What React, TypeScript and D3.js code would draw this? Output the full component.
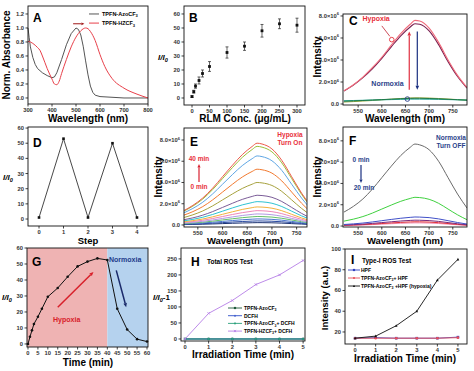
import * as d3 from "d3";

const W = 474;
const H = 371;
const FONT = "'Liberation Sans', Arial, sans-serif";

// ---- A: normalized absorbance
const azoWl = [300, 305, 310, 320, 330, 340, 360, 380, 400, 410, 420, 440, 460, 480, 500, 510, 520, 530, 540, 550, 560, 570, 580, 600, 650, 700, 800];
const azoAbs = [1.0, 0.86, 0.73, 0.58, 0.48, 0.42, 0.36, 0.32, 0.29, 0.3, 0.36, 0.55, 0.76, 0.92, 1.0, 0.98, 0.9, 0.74, 0.53, 0.33, 0.17, 0.08, 0.04, 0.02, 0.01, 0.0, 0.0];
const hzWl = [300, 310, 320, 340, 350, 360, 380, 400, 410, 420, 430, 440, 460, 480, 500, 520, 540, 550, 560, 580, 600, 620, 650, 700, 750, 800];
const hzAbs = [0.81, 0.8, 0.78, 0.72, 0.68, 0.6, 0.42, 0.27, 0.2, 0.19, 0.24, 0.35, 0.55, 0.73, 0.87, 0.96, 1.0, 0.99, 0.95, 0.82, 0.62, 0.45, 0.28, 0.14, 0.06, 0.0];

// ---- B: I/I0 vs RLM concentration
const rlmConc = [0, 5, 10, 20, 30, 50, 100, 150, 200, 250, 300];
const rlmRatio = [1, 4.5, 8.5, 12.5, 17.5, 22.5, 32.5, 37, 48, 53, 52];
const rlmErr = [0.6, 1, 1.5, 2.5, 2.5, 3.5, 4, 3, 4.5, 3.5, 5];

// ---- C: emission spectra (x10^6)
const specWl = [520, 540, 560, 580, 600, 620, 640, 660, 670, 680, 700, 720, 740, 760, 780];
const cHypoxia = [1.2, 1.75, 2.45, 3.3, 4.25, 5.35, 6.4, 7.25, 7.6, 7.55, 6.9, 5.6, 4.0, 2.6, 1.5];
const cHypoxia2 = [1.18, 1.72, 2.4, 3.2, 4.15, 5.2, 6.2, 7.0, 7.3, 7.25, 6.65, 5.4, 3.85, 2.5, 1.45];
const cNormGreen = [0.25, 0.28, 0.32, 0.36, 0.4, 0.44, 0.48, 0.51, 0.52, 0.52, 0.5, 0.47, 0.43, 0.39, 0.35];
const cNormTeal = [0.3, 0.32, 0.34, 0.36, 0.38, 0.4, 0.42, 0.44, 0.44, 0.44, 0.43, 0.42, 0.4, 0.38, 0.36];
const cNormOlive = [0.18, 0.22, 0.27, 0.32, 0.38, 0.44, 0.5, 0.55, 0.56, 0.56, 0.54, 0.5, 0.45, 0.4, 0.35];

const bandShape = [0.17, 0.24, 0.33, 0.45, 0.59, 0.73, 0.86, 0.96, 1.0, 0.99, 0.93, 0.79, 0.59, 0.39, 0.22];
const ePeaks = [7.7, 7.4, 6.5, 5.25, 4.0, 2.8, 2.2, 1.7, 1.35, 1.04, 0.8, 0.57, 0.38, 0.22];
const eColors = ["#ee5a4a", "#9cbf3a", "#5ea6e4", "#f27a30", "#a7a23e", "#7b5c98", "#2ec3d2", "#f2b23c", "#ef86b8", "#b29ae4", "#66c06a", "#4c78d0", "#2a4aa0", "#1b3272"];
const fPeaks = [7.7, 2.7, 0.85, 0.55, 0.4, 0.3];
const fColors = ["#6b6b6b", "#3fd13f", "#4050c8", "#7a2a7a", "#e0303a", "#f28ab0"];

// ---- D: cycling
const steps = [0, 1, 2, 3, 4];
const stepRatio = [1, 53, 1, 50, 1];

// ---- G: time course
const gTime = [0, 1, 2, 3, 5, 7, 10, 15, 20, 25, 30, 35, 40, 45, 50, 55, 60];
const gRatio = [0, 4.5, 8.5, 12.5, 17, 22, 29.5, 35, 42, 48.5, 51.5, 53.5, 52.5, 22, 9, 3, 1.5];

// ---- H: total ROS
const irrTime = [0, 1, 2, 3, 4, 5];
const hAzo = [0, 0, 0, 0, 0, 0];
const hDcfh = [0, 0, 0, 0, 0, 0];
const hAzoDcfh = [0, 0, 0, 0, 0, 0];
const hHzDcfh = [0, 80, 120, 170, 200, 245];
const hLabels = ["TPFN-AzoCF", "DCFH", "TPFN-AzoCF", "TPFN-HZCF"];

// ---- I: type-I ROS
const iHpf = [14, 14.5, 14, 14, 14, 15];
const iAzoHpf = [14, 14, 14, 14, 14, 14.5];
const iAzoHpfHyp = [14, 16, 26, 40, 70, 90];

type S = d3.ScaleLinear<number, number>;

function Box({ x, y, xt, yt, xf, yf }: { x: S; y: S; xt: number[]; yt: number[]; xf: (v: number) => any; yf: (v: number) => any }) {
  const [x0, x1] = x.range();
  const [yb, yt0] = y.range();
  const tl = 2.5;
  return (
    <g>
      <rect x={x0} y={yt0} width={x1 - x0} height={yb - yt0} fill="none" stroke="#111" strokeWidth={0.9} />
      {xt.map((v) => (
        <g key={"x" + v}>
          <line x1={x(v)} x2={x(v)} y1={yb} y2={yb + tl} stroke="#111" strokeWidth={0.8} />
          <text x={x(v)} y={yb + 8} fontSize={5.8} fontWeight="bold" fill="#333" textAnchor="middle">{xf(v)}</text>
        </g>
      ))}
      {yt.map((v) => (
        <g key={"y" + v}>
          <line x1={x0 - tl} x2={x0} y1={y(v)} y2={y(v)} stroke="#111" strokeWidth={0.8} />
          <text x={x0 - tl - 1.5} y={y(v) + 2} fontSize={5.8} fontWeight="bold" fill="#333" textAnchor="end">{yf(v)}</text>
        </g>
      ))}
    </g>
  );
}

const sci = (v: number) =>
  v === 0 ? "0.0" : (
    <>
      {v.toFixed(1)}×10<tspan dy={-2.5} fontSize={4}>6</tspan>
    </>
  );

function Arrow({ x1, y1, x2, y2, color, w = 1.3, head = 4 }: { x1: number; y1: number; x2: number; y2: number; color: string; w?: number; head?: number }) {
  const a = Math.atan2(y2 - y1, x2 - x1);
  const bx = x2 - head * Math.cos(a);
  const by = y2 - head * Math.sin(a);
  const px = Math.sin(a) * head * 0.45;
  const py = -Math.cos(a) * head * 0.45;
  return (
    <g>
      <line x1={x1} y1={y1} x2={bx} y2={by} stroke={color} strokeWidth={w} />
      <path d={`M${x2},${y2}L${bx + px},${by + py}L${bx - px},${by - py}Z`} fill={color} />
    </g>
  );
}

function Marker({ kind, cx, cy, color, r = 1.6 }: { kind: string; cx: number; cy: number; color: string; r?: number }) {
  if (kind === "sq") return <rect x={cx - r} y={cy - r} width={2 * r} height={2 * r} fill={color} />;
  if (kind === "tri") return <path d={`M${cx},${cy - r * 1.2}L${cx + r},${cy + r * 0.8}L${cx - r},${cy + r * 0.8}Z`} fill={color} />;
  if (kind === "dia") return <path d={`M${cx},${cy - r * 1.2}L${cx + r},${cy}L${cx},${cy + r * 1.2}L${cx - r},${cy}Z`} fill={color} />;
  if (kind === "x") return <path d={`M${cx - r},${cy - r}L${cx + r},${cy + r}M${cx - r},${cy + r}L${cx + r},${cy - r}`} stroke={color} strokeWidth={0.8} />;
  return <circle cx={cx} cy={cy} r={r} fill={color} />;
}

export default function App() {
  const bold = { fontWeight: "bold" as const };
  const spec = (x: S, y: S, ys: number[]) =>
    d3.line<number>().x((_, i) => x(specWl[i])).y((v) => y(v)).curve(d3.curveMonotoneX)(ys) || "";
  const lin = (x: S, y: S, xs: number[], ys: number[]) =>
    d3.line<number>().x((_, i) => x(xs[i])).y((v) => y(v))(ys) || "";

  // A
  const ax = d3.scaleLinear().domain([300, 800]).range([28, 148]);
  const ay = d3.scaleLinear().domain([-0.086, 1.314]).range([104, 6]);
  // B
  const bx = d3.scaleLinear().domain([-22.9, 322.9]).range([184, 305]);
  const by = d3.scaleLinear().domain([-5, 65.7]).range([105, 6]);
  // C
  const cx = d3.scaleLinear().domain([518, 780]).range([343, 467]);
  const cy = d3.scaleLinear().domain([-0.09, 8.18]).range([105, 14]);
  // D
  const dx = d3.scaleLinear().domain([-0.45, 4.45]).range([28, 148]);
  const dy = d3.scaleLinear().domain([-4.6, 60.7]).range([226, 127]);
  // E
  const ex = d3.scaleLinear().domain([522, 771]).range([184, 307]);
  const ey = d3.scaleLinear().domain([-0.19, 9.13]).range([227, 128]);
  // F
  const fx = d3.scaleLinear().domain([518, 780]).range([343, 467]);
  const fy = d3.scaleLinear().domain([-0.09, 9.3]).range([227, 127]);
  // G
  const gx = d3.scaleLinear().domain([-0.5, 60.5]).range([27, 148]);
  const gy = d3.scaleLinear().domain([-1.9, 60]).range([347, 248]);
  // H
  const hx = d3.scaleLinear().domain([-0.17, 5.08]).range([181, 305]);
  const hy = d3.scaleLinear().domain([-6.3, 284]).range([341, 248]);
  // I
  const ix = d3.scaleLinear().domain([-0.49, 5.44]).range([345, 467]);
  const iy = d3.scaleLinear().domain([8.4, 100]).range([344, 249]);

  const clip = (id: string, x: S, y: S) => (
    <clipPath id={id}>
      <rect x={x.range()[0]} y={y.range()[1]} width={x.range()[1] - x.range()[0]} height={y.range()[0] - y.range()[1]} />
    </clipPath>
  );

  const hSeries = [
    { v: hAzo, c: "#1f5a3a", m: "sq" },
    { v: hDcfh, c: "#3050c8", m: "tri" },
    { v: hAzoDcfh, c: "#2aa07a", m: "dia" },
    { v: hHzDcfh, c: "#b57ee6", m: "x" },
  ];
  const iSeries = [
    { v: iHpf, c: "#3040c0", m: "sq", lab: "HPF" },
    { v: iAzoHpf, c: "#e8505a", m: "circ", lab: "TPFN-AzoCF" },
    { v: iAzoHpfHyp, c: "#111", m: "tri", lab: "TPFN-AzoCF" },
  ];

  return (
    <svg width={W} height={H} style={{ position: "absolute", left: 0, top: 0, background: "#fff" }} fontFamily={FONT}>
      <defs>
        {clip("clipC", cx, cy)}
        {clip("clipE", ex, ey)}
        {clip("clipF", fx, fy)}
      </defs>

      {/* ---------- A ---------- */}
      <path d={lin(ax, ay, azoWl, azoAbs)} fill="none" stroke="#555" strokeWidth={1} />
      <path d={d3.line<number>().x((_, i) => ax(hzWl[i])).y((v) => ay(v)).curve(d3.curveMonotoneX)(hzAbs) || ""} fill="none" stroke="#e8404a" strokeWidth={1} />
      <Box x={ax} y={ay} xt={d3.range(300, 801, 100)} yt={d3.range(0, 1.21, 0.2)} xf={(v) => v} yf={(v) => v.toFixed(1)} />
      <text x={33} y={22} fontSize={12} {...bold}>A</text>
      <line x1={89} x2={99} y1={ay(1.2)} y2={ay(1.2)} stroke="#555" strokeWidth={1} />
      <text x={102} y={ay(1.2) + 2} fontSize={5.5} {...bold}>TPFN-AzoCF<tspan dy={1.5} fontSize={4}>3</tspan></text>
      <line x1={89} x2={99} y1={ay(1.07)} y2={ay(1.07)} stroke="#e8404a" strokeWidth={1} />
      <text x={102} y={ay(1.07) + 2} fontSize={5.5} {...bold}>TPFN-HZCF<tspan dy={1.5} fontSize={4}>3</tspan></text>
      <Arrow x1={ax(488)} y1={ay(1.06)} x2={ax(535)} y2={ay(1.06)} color="#a01818" w={1} head={3} />
      <text x={88} y={121.5} fontSize={10} {...bold} textAnchor="middle">Wavelength (nm)</text>
      <text transform="translate(10,55) rotate(-90)" fontSize={10} {...bold} textAnchor="middle">Norm. Absorbance</text>

      {/* ---------- B ---------- */}
      {rlmConc.map((c, i) => (
        <g key={"b" + i}>
          <line x1={bx(c)} x2={bx(c)} y1={by(rlmRatio[i] - rlmErr[i])} y2={by(rlmRatio[i] + rlmErr[i])} stroke="#222" strokeWidth={0.7} />
          <line x1={bx(c) - 1.5} x2={bx(c) + 1.5} y1={by(rlmRatio[i] - rlmErr[i])} y2={by(rlmRatio[i] - rlmErr[i])} stroke="#222" strokeWidth={0.7} />
          <line x1={bx(c) - 1.5} x2={bx(c) + 1.5} y1={by(rlmRatio[i] + rlmErr[i])} y2={by(rlmRatio[i] + rlmErr[i])} stroke="#222" strokeWidth={0.7} />
          <rect x={bx(c) - 1.4} y={by(rlmRatio[i]) - 1.4} width={2.8} height={2.8} fill="#111" />
        </g>
      ))}
      <Box x={bx} y={by} xt={d3.range(0, 301, 50)} yt={d3.range(0, 61, 10)} xf={(v) => v} yf={(v) => v} />
      <text x={189} y={22} fontSize={12} {...bold}>B</text>
      <text x={245} y={122} fontSize={10} {...bold} textAnchor="middle">RLM Conc. (μg/mL)</text>
      <text x={158} y={60} fontSize={8} fontStyle="italic" {...bold}>I/I<tspan dy={1.5} fontSize={5.5}>0</tspan></text>

      {/* ---------- C ---------- */}
      <g clipPath="url(#clipC)">
        <path d={spec(cx, cy, cNormOlive)} fill="none" stroke="#9aa83a" strokeWidth={1} />
        <path d={spec(cx, cy, cNormTeal)} fill="none" stroke="#2aa89a" strokeWidth={1} />
        <path d={spec(cx, cy, cNormGreen)} fill="none" stroke="#1f7a4a" strokeWidth={1} />
        <path d={spec(cx, cy, cHypoxia2)} fill="none" stroke="#7a2050" strokeWidth={1.1} />
        <path d={spec(cx, cy, cHypoxia)} fill="none" stroke="#f06a7a" strokeWidth={1.1} />
      </g>
      <Box x={cx} y={cy} xt={d3.range(550, 751, 50)} yt={d3.range(0, 8.1, 2)} xf={(v) => v} yf={sci} />
      <text x={349} y={25} fontSize={12} {...bold}>C</text>
      <text x={cx(588)} y={cy(7.5)} fontSize={7} fill="#e8303a" {...bold} textAnchor="middle">Hypoxia</text>
      <line x1={cx(600)} y1={cy(7.1)} x2={cx(617)} y2={cy(6.15)} stroke="#c02030" strokeWidth={0.8} />
      <circle cx={cx(621)} cy={cy(5.85)} r={2.3} fill="none" stroke="#e8303a" strokeWidth={0.9} />
      <Arrow x1={cx(658)} y1={cy(1.3)} x2={cx(658)} y2={cy(6.6)} color="#e03040" w={1.2} head={4} />
      <Arrow x1={cx(675)} y1={cy(6.6)} x2={cx(675)} y2={cy(1.3)} color="#1a2f80" w={1.2} head={4} />
      <text x={cx(612)} y={cy(1.6)} fontSize={7} fill="#2a3f8a" {...bold} textAnchor="middle">Normoxia</text>
      <circle cx={cx(654)} cy={cy(0.45)} r={2.3} fill="none" stroke="#2a3f8a" strokeWidth={0.9} />
      <text x={405} y={122} fontSize={10} {...bold} textAnchor="middle">Wavelength (nm)</text>
      <text transform="translate(321,57) rotate(-90)" fontSize={10} {...bold} textAnchor="middle">Intensity</text>

      {/* ---------- D ---------- */}
      <path d={lin(dx, dy, steps, stepRatio)} fill="none" stroke="#333" strokeWidth={0.9} />
      {steps.map((s, i) => <Marker key={"d" + i} kind="sq" cx={dx(s)} cy={dy(stepRatio[i])} color="#111" r={1.3} />)}
      <Box x={dx} y={dy} xt={steps} yt={d3.range(0, 61, 10)} xf={(v) => v} yf={(v) => v} />
      <text x={33} y={147} fontSize={12} {...bold}>D</text>
      <text x={88} y={243.5} fontSize={9.5} {...bold} textAnchor="middle">Step</text>
      <text x={3} y={180} fontSize={8} fontStyle="italic" {...bold}>I/I<tspan dy={1.5} fontSize={5.5}>0</tspan></text>

      {/* ---------- E ---------- */}
      <g clipPath="url(#clipE)">
        {ePeaks.map((p, k) => ePeaks.length - 1 - k).map((k) => (
          <path key={"e" + k} d={spec(ex, ey, bandShape.map((s) => s * ePeaks[k]))} fill="none" stroke={eColors[k]} strokeWidth={1} />
        ))}
      </g>
      <Box x={ex} y={ey} xt={d3.range(550, 751, 50)} yt={d3.range(0, 8.1, 2)} xf={(v) => v} yf={sci} />
      <text x={190} y={146} fontSize={12} {...bold}>E</text>
      <text x={290} y={137} fontSize={6.5} fill="#e8303a" {...bold} textAnchor="middle">Hypoxia</text>
      <text x={290} y={145} fontSize={6.5} fill="#e8303a" {...bold} textAnchor="middle">Turn On</text>
      <text x={199} y={161} fontSize={6.5} fill="#e8303a" {...bold} textAnchor="middle">40 min</text>
      <Arrow x1={199} y1={182} x2={199} y2={164} color="#d82030" w={1.2} head={3.5} />
      <text x={199} y={189} fontSize={6.5} fill="#e8303a" {...bold} textAnchor="middle">0 min</text>
      <text x={245} y={243.5} fontSize={9.5} {...bold} textAnchor="middle">Wavelength (nm)</text>
      <text transform="translate(162,177) rotate(-90)" fontSize={10} {...bold} textAnchor="middle">Intensity</text>

      {/* ---------- F ---------- */}
      <g clipPath="url(#clipF)">
        {fPeaks.map((p, k) => fPeaks.length - 1 - k).map((k) => (
          <path key={"f" + k} d={spec(fx, fy, bandShape.map((s) => s * fPeaks[k]))} fill="none" stroke={fColors[k]} strokeWidth={1} />
        ))}
      </g>
      <Box x={fx} y={fy} xt={d3.range(550, 751, 50)} yt={d3.range(0, 8.1, 2)} xf={(v) => v} yf={sci} />
      <text x={349} y={145} fontSize={12} {...bold}>F</text>
      <text x={451} y={140} fontSize={6.5} fill="#2a3f8a" {...bold} textAnchor="middle">Normoxia</text>
      <text x={451} y={148} fontSize={6.5} fill="#2a3f8a" {...bold} textAnchor="middle">Turn OFF</text>
      <text x={361} y={162} fontSize={6.5} fill="#2a3f8a" {...bold} textAnchor="middle">0 min</text>
      <Arrow x1={361} y1={165} x2={361} y2={183} color="#1a2f80" w={1.2} head={3.5} />
      <text x={364} y={190} fontSize={6.5} fill="#2a3f8a" {...bold} textAnchor="middle">20 min</text>
      <text x={405} y={243.5} fontSize={9.5} {...bold} textAnchor="middle">Wavelength (nm)</text>
      <text transform="translate(321,177) rotate(-90)" fontSize={10} {...bold} textAnchor="middle">Intensity</text>

      {/* ---------- G ---------- */}
      <rect x={gx(-0.5)} y={gy(60)} width={gx(40) - gx(-0.5)} height={gy(-1.9) - gy(60)} fill="#efb3b3" />
      <rect x={gx(40)} y={gy(60)} width={gx(60.5) - gx(40)} height={gy(-1.9) - gy(60)} fill="#b5d2ee" />
      <path d={lin(gx, gy, gTime, gRatio)} fill="none" stroke="#111" strokeWidth={1} />
      {gTime.map((t, i) => <Marker key={"g" + i} kind="circ" cx={gx(t)} cy={gy(gRatio[i])} color="#111" r={1.3} />)}
      <Box x={gx} y={gy} xt={d3.range(0, 61, 5)} yt={d3.range(0, 61, 10)} xf={(v) => v} yf={(v) => v} />
      <text x={32} y={266} fontSize={12} {...bold}>G</text>
      <Arrow x1={gx(15)} y1={gy(23)} x2={gx(33)} y2={gy(45)} color="#d8202a" w={1.5} head={4} />
      <text x={gx(19.5)} y={gy(14)} fontSize={7} fill="#d8202a" {...bold} textAnchor="middle">Hypoxia</text>
      <Arrow x1={gx(44.5)} y1={gy(46)} x2={gx(49.5)} y2={gy(23)} color="#1a2a6a" w={1.5} head={4} />
      <text x={gx(49)} y={gy(51)} fontSize={7} fill="#1e3a8a" {...bold} textAnchor="middle">Normoxia</text>
      <text x={88} y={366} fontSize={10} {...bold} textAnchor="middle">Time (min)</text>
      <text x={2} y={300} fontSize={8} fontStyle="italic" {...bold}>I/I<tspan dy={1.5} fontSize={5.5}>0</tspan></text>

      {/* ---------- H ---------- */}
      {hSeries.map((s, k) => (
        <g key={"h" + k}>
          <path d={lin(hx, hy, irrTime, s.v)} fill="none" stroke={s.c} strokeWidth={0.9} />
          {irrTime.map((t, i) => <Marker key={i} kind={s.m} cx={hx(t)} cy={hy(s.v[i])} color={s.c} r={1.2} />)}
        </g>
      ))}
      <Box x={hx} y={hy} xt={irrTime} yt={d3.range(0, 251, 50)} xf={(v) => v} yf={(v) => v} />
      <text x={191} y={266} fontSize={12} {...bold}>H</text>
      <text x={207} y={264} fontSize={6.5} {...bold}>Total ROS Test</text>
      {hSeries.map((s, k) => (
        <g key={"hl" + k}>
          <line x1={228} x2={242} y1={308 + k * 7.7} y2={308 + k * 7.7} stroke={s.c} strokeWidth={0.9} />
          <Marker kind={s.m} cx={235} cy={308 + k * 7.7} color={s.c} r={1.1} />
          <text x={244} y={310 + k * 7.7} fontSize={5} {...bold}>
            {hLabels[k]}
            {k !== 1 && <tspan dy={1.2} fontSize={3.5}>3</tspan>}
            {k >= 2 && <tspan dy={-1.2}>+ DCFH</tspan>}
          </text>
        </g>
      ))}
      <text x={243} y={357.5} fontSize={10} {...bold} textAnchor="middle">Irradiation Time (min)</text>
      <text x={153} y={300} fontSize={8} fontStyle="italic" {...bold}>I/I<tspan dy={1.5} fontSize={5.5}>0</tspan><tspan dy={-1.5} fontStyle="normal">-1</tspan></text>

      {/* ---------- I ---------- */}
      {iSeries.map((s, k) => (
        <g key={"i" + k}>
          <path d={lin(ix, iy, irrTime, s.v)} fill="none" stroke={s.c} strokeWidth={0.9} />
          {irrTime.map((t, i) => <Marker key={i} kind={s.m} cx={ix(t)} cy={iy(s.v[i])} color={s.c} r={1.3} />)}
        </g>
      ))}
      <Box x={ix} y={iy} xt={irrTime} yt={d3.range(20, 101, 20)} xf={(v) => v} yf={(v) => v} />
      <text x={351} y={264} fontSize={12} {...bold}>I</text>
      <text x={362} y={263} fontSize={6.5} {...bold}>Type-I ROS Test</text>
      {iSeries.map((s, k) => (
        <g key={"il" + k}>
          <line x1={348} x2={360} y1={270 + k * 8} y2={270 + k * 8} stroke={s.c} strokeWidth={0.9} />
          <Marker kind={s.m} cx={354} cy={270 + k * 8} color={s.c} r={1.1} />
          <text x={361} y={272 + k * 8} fontSize={5} {...bold}>
            {s.lab}
            {k > 0 && <tspan dy={1.2} fontSize={3.5}>3</tspan>}
            {k === 1 && <tspan dy={-1.2}>+ HPF</tspan>}
            {k === 2 && <tspan dy={-1.2}> +HPF (hypoxia)</tspan>}
          </text>
        </g>
      ))}
      <text x={405} y={362} fontSize={10} {...bold} textAnchor="middle">Irradiation Time (min)</text>
      <text transform="translate(328,298) rotate(-90)" fontSize={9.5} {...bold} textAnchor="middle">Intensity (a.u.)</text>
    </svg>
  );
}
